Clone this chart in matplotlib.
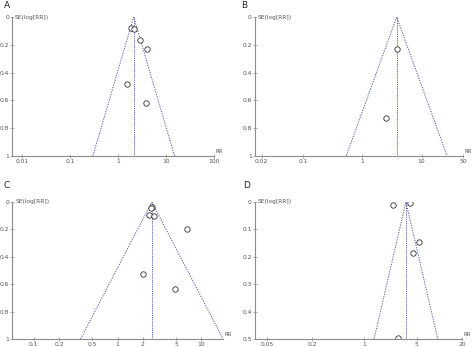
import numpy as np
import matplotlib
matplotlib.use("Agg")
import matplotlib.pyplot as plt

# ---- data ----
rr_a = [1.90, 2.15, 2.87, 4.08, 1.54, 3.83]
se_a = [0.080, 0.087, 0.169, 0.229, 0.48, 0.62]
pooled_a = 2.12
xticks_a = [0.01, 0.1, 1, 10, 100]
xlabels_a = ["0.01", "0.1", "1", "10", "100"]
yticks_a = [0, 0.2, 0.4, 0.6, 0.8, 1]
ylabels_a = ["0", "0.2", "0.4", "0.6", "0.8", "1"]

rr_b = [3.9, 2.5]
se_b = [0.229, 0.73]
pooled_b = 3.8
xticks_b = [0.02, 0.1, 1, 10, 50]
xlabels_b = ["0.02", "0.1", "1", "10", "50"]
yticks_b = [0, 0.2, 0.4, 0.6, 0.8, 1]
ylabels_b = ["0", "0.2", "0.4", "0.6", "0.8", "1"]

rr_c = [2.57, 2.50, 2.37, 2.74, 6.8, 2.01, 4.84]
se_c = [0.036, 0.044, 0.092, 0.10, 0.195, 0.526, 0.637]
pooled_c = 2.57
xticks_c = [0.1, 0.2, 0.5, 1, 2, 5, 10]
xlabels_c = ["0.1", "0.2", "0.5", "1", "2", "5", "10"]
yticks_c = [0, 0.2, 0.4, 0.6, 0.8, 1]
ylabels_c = ["0", "0.2", "0.4", "0.6", "0.8", "1"]

rr_d = [2.42, 4.04, 5.27, 4.38, 2.79]
se_d = [0.011, 0.005, 0.147, 0.187, 0.496]
pooled_d = 3.57
xticks_d = [0.05, 0.2, 1, 5, 20]
xlabels_d = ["0.05", "0.2", "1", "5", "20"]
yticks_d = [0, 0.1, 0.2, 0.3, 0.4, 0.5]
ylabels_d = ["0", "0.1", "0.2", "0.3", "0.4", "0.5"]

panels = [
    dict(letter="A", rr=rr_a, se=se_a, pooled=pooled_a, xt=xticks_a, xl=xlabels_a,
         yt=yticks_a, yl=ylabels_a, xlim=(10**-2.21, 100), ymax=1,
         pos=[12/474, 1-156/347, 202/474, 139/347], lpos=(4, 6)),
    dict(letter="B", rr=rr_b, se=se_b, pooled=pooled_b, xt=xticks_b, xl=xlabels_b,
         yt=yticks_b, yl=ylabels_b, xlim=(10**-1.81, 50), ymax=1,
         pos=[255/474, 1-156/347, 208/474, 139/347], lpos=(241, 6)),
    dict(letter="C", rr=rr_c, se=se_c, pooled=pooled_c, xt=xticks_c, xl=xlabels_c,
         yt=yticks_c, yl=ylabels_c, xlim=(10**-1.26, 10**1.26), ymax=1,
         pos=[12/474, 1-339/347, 211/474, 137/347], lpos=(4, 185)),
    dict(letter="D", rr=rr_d, se=se_d, pooled=pooled_d, xt=xticks_d, xl=xlabels_d,
         yt=yticks_d, yl=ylabels_d, xlim=(10**-1.461, 20), ymax=0.5,
         pos=[255/474, 1-339/347, 207/474, 137/347], lpos=(243, 186)),
]

fig = plt.figure(figsize=(4.74, 3.47), dpi=100)
line_col = "#5a5aa8"
spine_col = "#8c8c8c"
text_col = "#555555"

for p in panels:
    ax = fig.add_axes(p["pos"])
    ax.set_xscale("log")
    c = p["pooled"]
    ym = p["ymax"]
    lo = c * np.exp(-1.96 * ym)
    hi = c * np.exp(1.96 * ym)
    ax.plot([lo, c, hi], [ym, 0, ym], color=line_col, lw=0.7, ls=(0, (1.3, 1.3)))
    ax.plot([c, c], [0, ym], color=line_col, lw=0.7, ls=(0, (1.0, 0.9)))
    ax.plot(p["rr"], p["se"], ls="none", marker="o", ms=3.9, mfc="white",
            mec="#333333", mew=0.6)
    ax.set_xlim(*p["xlim"])
    ax.set_ylim(ym, 0)
    ax.set_xticks(p["xt"])
    ax.set_xticklabels(p["xl"])
    ax.xaxis.set_minor_locator(matplotlib.ticker.NullLocator())
    ax.set_yticks(p["yt"])
    ax.set_yticklabels(p["yl"])
    for s in ["top", "right"]:
        ax.spines[s].set_visible(False)
    for s in ["left", "bottom"]:
        ax.spines[s].set_color(spine_col)
        ax.spines[s].set_linewidth(0.8)
    ax.tick_params(axis="both", direction="inout", length=2.5, width=0.5,
                   colors=spine_col, labelcolor=text_col, labelsize=4.3, pad=1.0)
    ax.patch.set_alpha(0)
    ax.text(0.015, 1.0, "SE(log[RR])", transform=ax.transAxes, fontsize=4.2,
            color=text_col, va="center", ha="left")
    ax.text(1.008, 0.015, "RR", transform=ax.transAxes, fontsize=4.0,
            color=text_col, va="bottom", ha="left")
    fig.text(p["lpos"][0] / 474, 1 - p["lpos"][1] / 347, p["letter"], fontsize=6.5,
             color="#222222", va="center", ha="left")

fig.savefig("out.png", dpi=100)
